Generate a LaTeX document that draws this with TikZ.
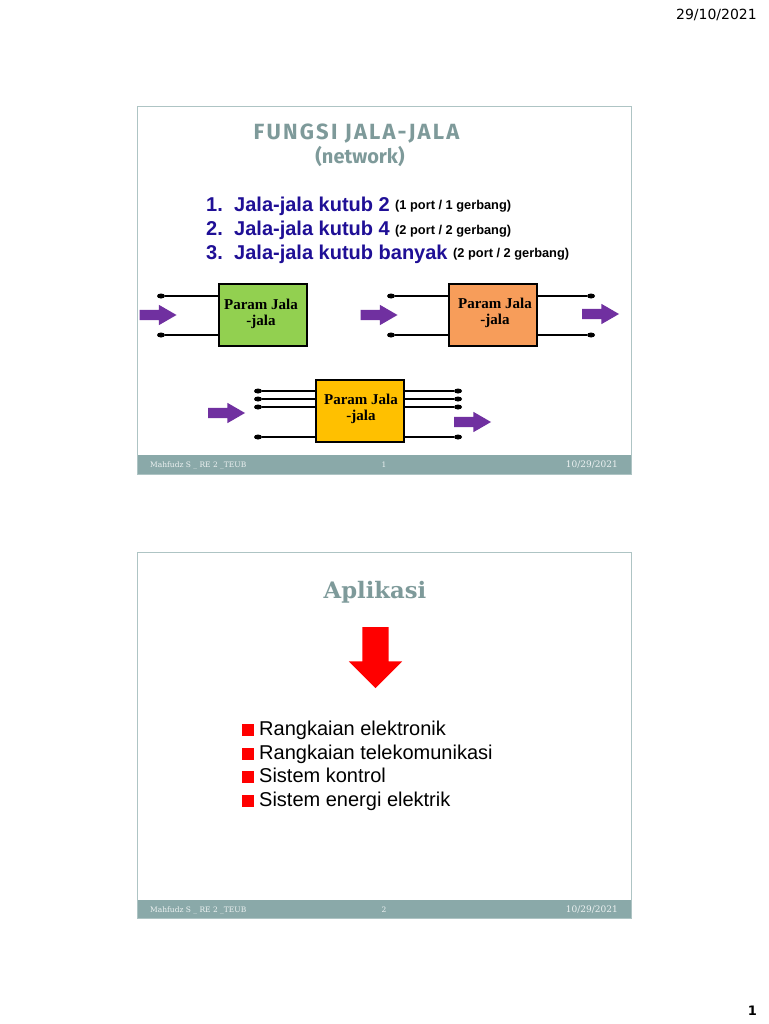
\documentclass[tikz,border=0pt]{standalone}
\usepackage{fontspec}
\setmainfont{Liberation Sans}
\newfontfamily\pagefont{DejaVu Sans}
\newfontfamily\titlefont{Fira Sans}
\newfontfamily\titlewide[LetterSpace=10]{Fira Sans}
\newfontfamily\boxfont{Liberation Serif}
\newfontfamily\footfont{DejaVu Serif}
\usetikzlibrary{shapes.arrows,shapes.geometric}
\definecolor{slideteal}{HTML}{8AA9A9}
\definecolor{slideline}{HTML}{AEC4C4}
\definecolor{titlegrey}{HTML}{7E9A9A}
\definecolor{listblue}{HTML}{1F0F96}
\definecolor{flowpurple}{HTML}{7030A0}
\definecolor{boxgreen}{HTML}{92D050}
\definecolor{boxorange}{HTML}{F79D5A}
\definecolor{boxgold}{HTML}{FFC000}
\tikzset{
  txt/.style={inner sep=0pt,anchor=base west},
  slidetitle/.style={inner sep=0pt,anchor=base,text=titlegrey},
  listitem/.style={txt,text=listblue,font=\bfseries\fontsize{20}{24}\selectfont},
  listnote/.style={txt,font=\bfseries\fontsize{12.8}{15}\selectfont},
  appitem/.style={txt,font=\fontsize{20}{24}\selectfont},
  foot/.style={inner sep=0pt,text=white!85!slideteal,font=\footfont\fontsize{7.5}{9}\selectfont},
  footdate/.style={inner sep=0pt,text=white!85!slideteal,font=\footfont\fontsize{9}{10}\selectfont},
  parambox/.style={draw=black,line width=2.6pt,minimum width=88pt,minimum height=62pt,inner sep=0pt},
  paramtext/.style={inner sep=0pt,align=center,font=\boxfont\bfseries\fontsize{15}{16}\selectfont},
  term/.style={ellipse,fill=black,minimum width=8pt,minimum height=5pt,inner sep=0pt},
  wire/.style={line width=1.3pt},
  flowarrow/.style={single arrow,fill=flowpurple,text height=5pt,text depth=5pt,minimum width=20pt,minimum height=37pt,
    single arrow head extend=5pt,single arrow tip angle=60,inner sep=0pt},
  downarrow/.style={single arrow,fill=red,rotate=-90,text height=13pt,text depth=13pt,minimum width=53pt,minimum height=61pt,
    single arrow head extend=13.5pt,single arrow tip angle=90,inner sep=0pt},
  bullet/.style={fill=red,minimum size=11.5pt,inner sep=0pt}
}
\begin{document}
\begin{tikzpicture}[x=1pt,y=-1pt]
\useasboundingbox[fill=white] (0,0) rectangle (768,1024);

\node[inner sep=0pt,anchor=base east,font=\pagefont\fontsize{14}{16}\selectfont] (datehead) at (757,20){29/10/2021};
\node[inner sep=0pt,anchor=base east,font=\pagefont\bfseries\fontsize{13}{15}\selectfont] (pagenum) at (757,1015){1};

% slide 1
\fill[slideteal] (137,455) rectangle (631,474);
\draw[slideline,line width=1pt] (137,107) rectangle (631,474);
\node[slidetitle,font=\titlewide\bfseries\fontsize{22}{26}\selectfont] (titlea) at (356.5,140){FUNGSI JALA-JALA};
\node[slidetitle,font=\titlefont\bfseries\fontsize{20}{24}\selectfont] (titleb) at (360,164){(network)};

\node[listitem] (numa) at (206,212){1.};
\node[listitem] (itema) at (234,212){Jala-jala kutub 2};
\node[listnote] (notea) at (395,210){(1 port / 1 gerbang)};
\node[listitem] (numb) at (206,236){2.};
\node[listitem] (itemb) at (234,236){Jala-jala kutub 4};
\node[listnote] (noteb) at (395,234){(2 port / 2 gerbang)};
\node[listitem] (numc) at (206,259){3.};
\node[listitem] (itemc) at (234,259){Jala-jala kutub banyak};
\node[listnote] (notec) at (453,258){(2 port / 2 gerbang)};

% kutub 2
\node[parambox,fill=boxgreen] (boxa) at (263,315){};
\node[paramtext] (texta) at (261,314){Param Jala\\-jala};
\node[term] (aa) at (161,296){};
\node[term] (ab) at (161,335){};
\draw[wire] (aa)--(aa-|boxa.west);
\draw[wire] (ab)--(ab-|boxa.west);
\node[flowarrow] (flowa) at (153.5,315){};

% kutub 4
\node[parambox,fill=boxorange] (boxb) at (493,315){};
\node[paramtext] (textb) at (495,313){Param Jala\\-jala};
\node[term] (ba) at (391,296){};
\node[term] (bb) at (391,335){};
\node[term] (bc) at (591,296){};
\node[term] (bd) at (591,335){};
\draw[wire] (ba)--(ba-|boxb.west);
\draw[wire] (bb)--(bb-|boxb.west);
\draw[wire] (bc)--(bc-|boxb.east);
\draw[wire] (bd)--(bd-|boxb.east);
\node[flowarrow] (flowb) at (374.5,315){};
\node[flowarrow] (flowc) at (596,314){};

% kutub banyak
\node[parambox,fill=boxgold] (boxc) at (360,411){};
\node[paramtext] (textc) at (361,409){Param Jala\\-jala};
\node[term] (ca) at (258,391){};
\node[term] (cb) at (258,399){};
\node[term] (cc) at (258,407){};
\node[term] (cd) at (258,437){};
\node[term] (ce) at (458,391){};
\node[term] (cf) at (458,399){};
\node[term] (cg) at (458,407){};
\node[term] (ch) at (458,437){};
\draw[wire] (ca)--(ca-|boxc.west);
\draw[wire] (cb)--(cb-|boxc.west);
\draw[wire] (cc)--(cc-|boxc.west);
\draw[wire] (cd)--(cd-|boxc.west);
\draw[wire] (ce)--(ce-|boxc.east);
\draw[wire] (cf)--(cf-|boxc.east);
\draw[wire] (cg)--(cg-|boxc.east);
\draw[wire] (ch)--(ch-|boxc.east);
\node[flowarrow] (flowd) at (222,413){};
\node[flowarrow] (flowe) at (468,422){};

\node[foot,anchor=base west] (foota) at (150,467){Mahfudz S \_ RE 2 \_TEUB};
\node[foot,anchor=base] (footb) at (384,467){1};
\node[footdate,anchor=base east] (footc) at (618,467){10/29/2021};

% slide 2
\fill[slideteal] (137,900) rectangle (631,918);
\draw[slideline,line width=1pt] (137,552) rectangle (631,918);
\node[slidetitle,font=\footfont\bfseries\fontsize{22.7}{26}\selectfont] (titlec) at (375,598){Aplikasi};
\node[downarrow] (down) at (375.5,651){};

\node[bullet] (bula) at (248,730){};
\node[appitem] (appa) at (259,735){Rangkaian elektronik};
\node[bullet] (bulb) at (248,754){};
\node[appitem] (appb) at (259,759){Rangkaian telekomunikasi};
\node[bullet] (bulc) at (248,777){};
\node[appitem] (appc) at (259,782){Sistem kontrol};
\node[bullet] (buld) at (248,801){};
\node[appitem] (appd) at (259,806){Sistem energi elektrik};

\node[foot,anchor=base west] (foote) at (150,912){Mahfudz S \_ RE 2 \_TEUB};
\node[foot,anchor=base] (footf) at (384,912){2};
\node[footdate,anchor=base east] (footg) at (618,912){10/29/2021};

\end{tikzpicture}
\end{document}
